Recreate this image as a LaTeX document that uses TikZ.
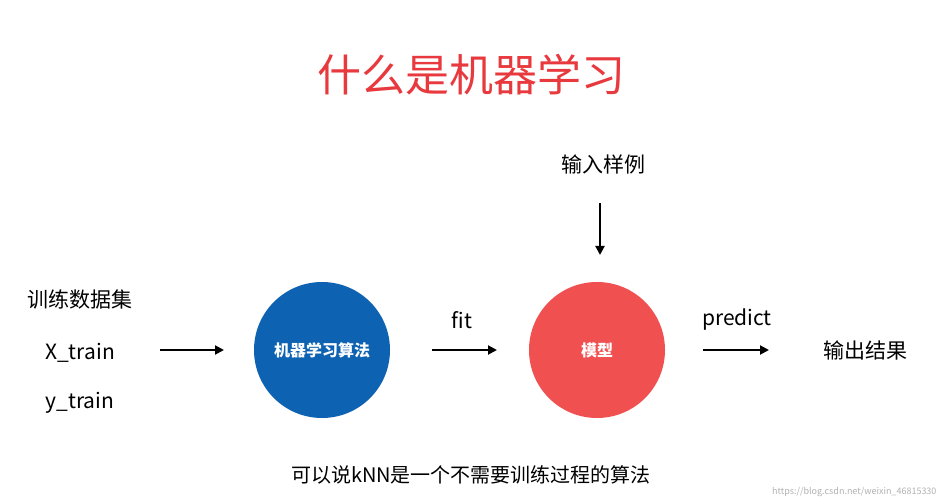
\documentclass[tikz,border=0pt]{standalone}
\usepackage{fontspec}
\setmainfont{Noto Sans CJK SC}
\usetikzlibrary{arrows.meta}
\definecolor{titlered}{RGB}{232,58,62}
\definecolor{cblue}{RGB}{14,98,178}
\definecolor{cred}{RGB}{240,80,80}
\tikzset{
  lbl/.style={font=\fontsize{21}{23}\selectfont, text=black},
  flow/.style={-{Triangle[length=9pt,width=9pt]}, line width=2pt},
  ball/.style={circle, minimum size=136pt, inner sep=0pt, text=white, font=\bfseries\fontsize{16}{18}\selectfont}
}
\begin{document}
\begin{tikzpicture}[x=1pt,y=1pt]
\useasboundingbox[fill=white] (0,0) rectangle (942,500);
\node[text=titlered, font=\fontsize{44}{48}\selectfont] (title) at (471,425) {什么是机器学习};
\node[lbl] (input) at (603,335) {输入样例};
\coordinate (inA) at (600,297);
\coordinate (inB) at (600,245);
\node[lbl] (train) at (80,200) {训练数据集};
\node[lbl] (xt) at (80,147) {X\_train};
\node[lbl] (yt) at (80,97) {y\_train};
\node[ball, fill=cblue] (algo) at (322,150) {机器学习算法};
\node[ball, fill=cred] (model) at (597,150) {模型};
\node[lbl] (fit) at (462,180) {fit};
\node[lbl] (pred) at (737,180) {predict};
\node[lbl] (out) at (865,150) {输出结果};
\node[lbl, font=\fontsize{20}{22}\selectfont] (note) at (471,25) {可以说kNN是一个不需要训练过程的算法};
\node[text=gray!60, font=\fontsize{9}{10}\selectfont, anchor=east] (wm) at (940,8) {https://blog.csdn.net/weixin\_46815330};
\coordinate (a1) at (160,150); \coordinate (a2) at (224,150);
\coordinate (b1) at (432,150); \coordinate (b2) at (497,150);
\coordinate (c1) at (703,150); \coordinate (c2) at (769,150);
\draw[flow] (inA) -- (inB);
\draw[flow] (a1) -- (a2);
\draw[flow] (b1) -- (b2);
\draw[flow] (c1) -- (c2);
\end{tikzpicture}
\end{document}
